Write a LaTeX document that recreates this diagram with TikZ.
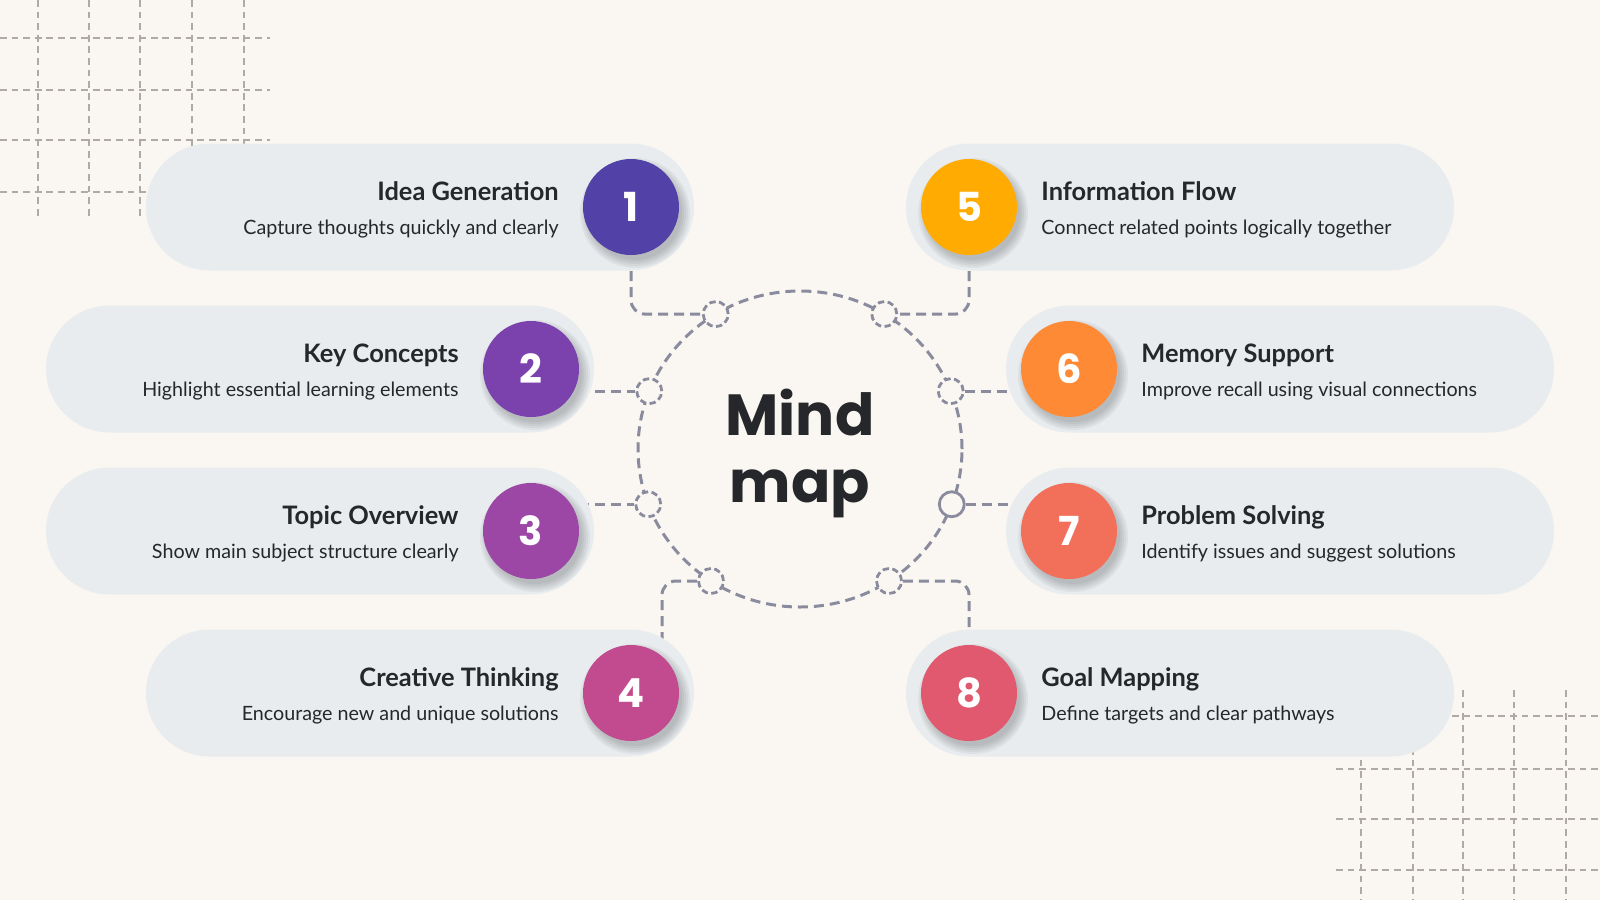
\documentclass[tikz,border=0pt]{standalone}
\usepackage{fontspec}
\setmainfont{Lato}
\newfontfamily\popfont{Poppins}
\usetikzlibrary{shapes.geometric,shapes.misc,calc}
\definecolor{bgc}{HTML}{FAF7F2}
\definecolor{pillc}{HTML}{E8ECEE}
\definecolor{linec}{HTML}{8A8C9E}
\definecolor{gridc}{HTML}{B0AAA5}
\definecolor{txtc}{HTML}{25272A}
\definecolor{cone}{HTML}{5241A7}
\definecolor{ctwo}{HTML}{7B41AD}
\definecolor{cthree}{HTML}{9C47A6}
\definecolor{cfour}{HTML}{C24B8F}
\definecolor{cfive}{HTML}{FFAB02}
\definecolor{csix}{HTML}{FF8A35}
\definecolor{cseven}{HTML}{F26F5A}
\definecolor{ceight}{HTML}{E0596F}
\pgfdeclarelayer{back}
\pgfdeclarelayer{links}
\pgfdeclarelayer{front}
\pgfsetlayers{back,links,main,front}
\tikzset{
  pill/.style={rounded rectangle, fill=pillc, minimum width=274pt, minimum height=63.5pt, inner sep=0pt, outer sep=0pt},
  numc/.style={circle, fill=#1, minimum size=48pt, inner sep=0pt, text=white,
    font=\popfont\bfseries\fontsize{20pt}{20pt}\selectfont},
  shd/.style={fill=black, opacity=0.045},
  ttl/.style={text=txtc, inner sep=0pt, font=\bfseries\fontsize{12.7pt}{14pt}\selectfont},
  sub/.style={text=txtc, inner sep=0pt, font=\fontsize{9.85pt}{11pt}\selectfont},
  link/.style={draw=linec, line width=1.5pt, dash pattern=on 5pt off 3pt, rounded corners=7pt},
  dot/.style={circle, draw=linec, fill=bgc, line width=1.4pt, minimum size=12.5pt, inner sep=0pt, dash pattern=on 3.2pt off 1.7pt},
  soliddot/.style={circle, draw=linec, fill=bgc, line width=1.4pt, minimum size=12.5pt, inner sep=0pt},
  gridln/.style={draw=gridc, line width=0.6pt, dash pattern=on 3.4pt off 2.4pt},
  big/.style={text=txtc, inner sep=0pt, font=\popfont\bfseries\fontsize{29pt}{29pt}\selectfont}
}
\begin{document}
\begin{tikzpicture}[x=0.5pt,y=-0.5pt]
\useasboundingbox (0,0) rectangle (1600,900);
\begin{pgfonlayer}{back}
\fill[bgc] (0,0) rectangle (1600,900);
\foreach \x in {38,89,140,192,244} \draw[gridln] (\x,0) -- (\x,218);
\foreach \y in {38,90,140,192} \draw[gridln] (0,\y) -- (270,\y);
\foreach \x in {1361,1413,1463,1514,1566} \draw[gridln] (\x,690) -- (\x,900);
\foreach \y in {716,769,819,870} \draw[gridln] (1336,\y) -- (1600,\y);
\end{pgfonlayer}

% pills
\node[pill] (p1) at (420,207) {};
\node[pill] (p2) at (320,369) {};
\node[pill] (p3) at (320,531) {};
\node[pill] (p4) at (420,693) {};
\node[pill] (p5) at (1180,207) {};
\node[pill] (p6) at (1280,369) {};
\node[pill] (p7) at (1280,531) {};
\node[pill] (p8) at (1180,693) {};

% number circles
\begin{pgfonlayer}{front}
\node[numc=cone]   (n1) at ([xshift=-31.5pt]p1.east) {1};
\node[numc=ctwo]   (n2) at ([xshift=-31.5pt]p2.east) {2};
\node[numc=cthree] (n3) at ([xshift=-31.5pt]p3.east) {3};
\node[numc=cfour]  (n4) at ([xshift=-31.5pt]p4.east) {4};
\node[numc=cfive]  (n5) at ([xshift=31.5pt]p5.west) {5};
\node[numc=csix]   (n6) at ([xshift=31.5pt]p6.west) {6};
\node[numc=cseven] (n7) at ([xshift=31.5pt]p7.west) {7};
\node[numc=ceight] (n8) at ([xshift=31.5pt]p8.west) {8};
\end{pgfonlayer}

% soft shadows under the number circles
\foreach \n in {n1,n2,n3,n4,n5,n6,n7,n8}{
  \foreach \r in {55,53,51,49,47}{
    \fill[shd] ([xshift=2pt,yshift=-3pt]\n.center) circle[radius=\r*0.5pt];
  }
}

% texts
\node[ttl, anchor=base east] (t1) at (559,200) {Idea Generation};
\node[sub, anchor=base east] (s1) at (559,234) {Capture thoughts quickly and clearly};
\node[ttl, anchor=base east] (t2) at (459,362) {Key Concepts};
\node[sub, anchor=base east] (s2) at (459,396) {Highlight essential learning elements};
\node[ttl, anchor=base east] (t3) at (459,524) {Topic Overview};
\node[sub, anchor=base east] (s3) at (459,558) {Show main subject structure clearly};
\node[ttl, anchor=base east] (t4) at (559,686) {Creative Thinking};
\node[sub, anchor=base east] (s4) at (559,720) {Encourage new and unique solutions};
\node[ttl, anchor=base west] (t5) at (1041,200) {Information Flow};
\node[sub, anchor=base west] (s5) at (1041,234) {Connect related points logically together};
\node[ttl, anchor=base west] (t6) at (1141,362) {Memory Support};
\node[sub, anchor=base west] (s6) at (1141,396) {Improve recall using visual connections};
\node[ttl, anchor=base west] (t7) at (1141,524) {Problem Solving};
\node[sub, anchor=base west] (s7) at (1141,558) {Identify issues and suggest solutions};
\node[ttl, anchor=base west] (t8) at (1041,686) {Goal Mapping};
\node[sub, anchor=base west] (s8) at (1041,720) {Define targets and clear pathways};

% central
\begin{pgfonlayer}{links}
\node[ellipse, draw=linec, line width=1.5pt, dash pattern=on 5pt off 3pt, minimum width=162pt, minimum height=158pt, inner sep=0pt, outer sep=0pt] (mm) at (800,449) {};
\end{pgfonlayer}
\node[big, anchor=base] (mt1) at (800,435) {Mind};
\node[big, anchor=base] (mt2) at (800,502) {map};

% junction dots
\node[dot] (a1) at (mm.122) {};
\node[dot] (a2) at (mm.159) {};
\node[dot] (a3) at (mm.200) {};
\node[dot] (a4) at (mm.236) {};
\node[dot] (a5) at (mm.58) {};
\node[dot] (a6) at (mm.21) {};
\node[soliddot] (a7) at (mm.-20) {};
\node[dot] (a8) at (mm.-56) {};

\coordinate (k4) at (662,693);
\begin{pgfonlayer}{links}
\draw[link] (n1.center) |- (a1.west);
\draw[link] (n2.center |- a2.center) -- (a2.west);
\draw[link] (n3.center |- a3.center) -- (a3.west);
\draw[link] (a4.west) -| (k4);
\draw[link] (n5.center) |- (a5.east);
\draw[link] (a6.east) -- (n6.center |- a6.center);
\draw[link] (a7.east) -- (n7.center |- a7.center);
\draw[link] (a8.east) -| (n8.center);
\end{pgfonlayer}
\end{tikzpicture}
\end{document}
